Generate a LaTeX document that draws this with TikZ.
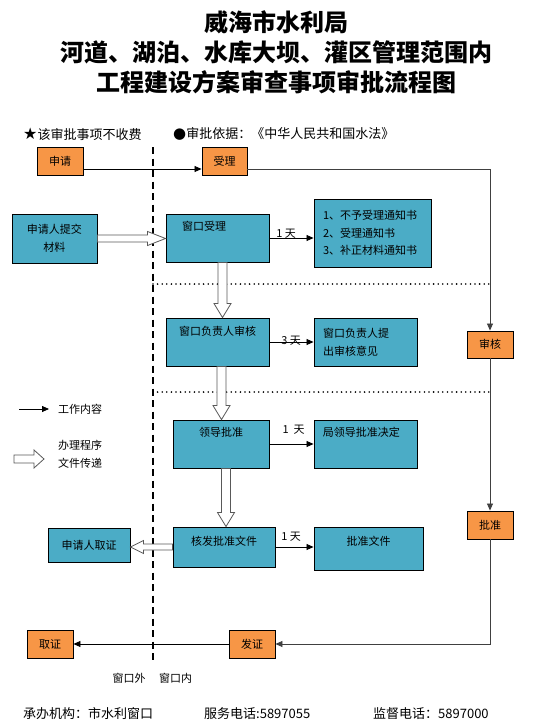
\documentclass[tikz,border=0pt]{standalone}
\usepackage{fontspec}
\setmainfont{Noto Sans CJK SC}
\newfontfamily\fuhao{DejaVu Sans}
\usetikzlibrary{arrows.meta,calc}
\definecolor{chengse}{HTML}{F79646}
\definecolor{lanse}{HTML}{4BACC6}
\tikzset{
  jt/.style={-{Triangle[length=7pt,width=6pt]},line width=0.8pt},
  kongjt/.style={draw=black!65,fill=white,line width=0.8pt},
  chengkuang/.style={draw,fill=chengse,line width=0.9pt,minimum width=46pt,minimum height=28pt,inner sep=0pt},
  lankuang/.style={draw,fill=lanse,line width=0.9pt,inner sep=0pt},
}
% hollow arrows: start, end (down) / start, end, shaft half, head half, signed head length (side)
\newcommand\fatdown[2]{\path[kongjt] let \p1=(#1), \p2=(#2) in
  (\x1-4.5pt,\y1) -- (\x1-4.5pt,\y2+14pt) -- (\x1-8.5pt,\y2+14pt) -- (\x1,\y2)
  -- (\x1+8.5pt,\y2+14pt) -- (\x1+4.5pt,\y2+14pt) -- (\x1+4.5pt,\y1) -- cycle;}
\newcommand\fatside[5]{\path[kongjt] let \p1=(#1), \p2=(#2), \n1={#5} in
  (\x1,\y1+#3) -- (\x2-\n1,\y1+#3) -- (\x2-\n1,\y1+#4) -- (\x2,\y1)
  -- (\x2-\n1,\y1-#4) -- (\x2-\n1,\y1-#3) -- (\x1,\y1-#3) -- cycle;}
\begin{document}
\begin{tikzpicture}[x=1pt,y=-1pt,font=\fontsize{11pt}{14pt}\selectfont]
  \useasboundingbox[fill=white] (0,0) rectangle (534,728);
  \node[font=\bfseries\fontsize{24pt}{30pt}\selectfont,align=center] (biaoti) at (276,52)
    {威海市水利局\\河道、湖泊、水库大坝、灌区管理范围内\\工程建设方案审查事项审批流程图};
  \node[font=\fontsize{13pt}{15pt}\selectfont,anchor=west,inner sep=0pt] (shoufei) at (23,134) {{\fuhao\fontsize{16pt}{16pt}\selectfont ★}该审批事项不收费};
  \node[font=\fontsize{13pt}{15pt}\selectfont,anchor=west,inner sep=0pt] (yiju) at (173,134) {{\fuhao\fontsize{15pt}{15pt}\selectfont ●}审批依据：《中华人民共和国水法》};
  % window line and stage separators
  \draw[line width=1.5pt,dash pattern=on 7pt off 4.5pt] (153,147) -- (153,660);
  \draw[line width=1.8pt,line cap=round,dash pattern=on 0pt off 4.6pt] (153,284) -- (490,284);
  \draw[line width=1.8pt,line cap=round,dash pattern=on 0pt off 4.6pt] (153,392) -- (490,392);
  % orange track
  \node[chengkuang] (sq) at (60,161) {申请};
  \node[chengkuang,minimum width=45pt] (sl) at (224.5,161) {受理};
  \node[chengkuang,minimum height=27pt] (sh) at (490,344.5) {审核};
  \node[chengkuang] (pz) at (490,525) {批准};
  \node[chengkuang] (fz) at (252,644) {发证};
  \node[chengkuang] (qz) at (50,644) {取证};
  \draw[jt] ([yshift=-8pt]sq.east) -- ([yshift=-8pt]sl.west);
  \draw[jt,draw=black!75] ([yshift=-8pt]sl.east) -| (sh.north);
  \draw[jt,draw=black!75] (sh.south) -- (pz.north);
  \draw[jt,draw=black!75] (pz.south) |- (fz.east);
  \draw[jt] (fz.west) -- (qz.east);
  % blue boxes
  \node[lankuang,minimum width=85pt,minimum height=49pt,align=center] (tj) at (54.5,238.5) {申请人提交\\[4pt]材料};
  \node[lankuang,minimum width=103pt,minimum height=48pt] (wsl) at (217.5,238) {};
  \node (wsl-t) at ([xshift=-13.5pt,yshift=-13pt]wsl.north) {窗口受理};
  \node[lankuang,minimum width=117pt,minimum height=68pt,text width=99pt,align=left,font=\fontsize{11pt}{17.5pt}\selectfont] (tzs) at (372.5,233)
    {1、不予受理通知书\\2、受理通知书\\3、补正材料通知书};
  \node[lankuang,minimum width=103pt,minimum height=48pt] (fzr) at (217.5,342) {};
  \node (fzr-t) at ([yshift=-14pt]fzr.north) {窗口负责人审核};
  \node[lankuang,minimum width=103pt,minimum height=48pt,text width=85pt,align=left,font=\fontsize{11pt}{18pt}\selectfont] (yj) at (365.5,342)
    {窗口负责人提\\出审核意见};
  \node[lankuang,minimum width=96pt,minimum height=48pt] (ldpz) at (221,444) {};
  \node (ldpz-t) at ([yshift=-13pt]ldpz.north) {领导批准};
  \node[lankuang,minimum width=103pt,minimum height=48pt] (jd) at (365.5,444) {};
  \node[anchor=west,inner sep=0pt] (jd-t) at ([xshift=9pt,yshift=-13pt]jd.north west) {局领导批准决定};
  \node[lankuang,minimum width=102pt,minimum height=40pt] (hf) at (224,547) {};
  \node (hf-t) at ([yshift=-15pt]hf.north) {核发批准文件};
  \node[lankuang,minimum width=109pt,minimum height=43pt] (pzwj) at (368.5,548.5) {};
  \node (pzwj-t) at ([yshift=-15pt]pzwj.north) {批准文件};
  \node[lankuang,minimum width=82pt,minimum height=34pt] (qzr) at (89,545) {申请人取证};
  % work arrows
  \draw[jt] (wsl.east) -- (tzs.west |- wsl.east) node[pos=0.38,above,yshift=-4pt] {1 天};
  \draw[jt] (fzr.east) -- (yj.west) node[pos=0.49,above,yshift=-7pt] {3 天};
  \draw[jt] (ldpz.east) -- (jd.west) node[pos=0.55,above,yshift=6pt] {1\ \ 天};
  \draw[jt] (hf.east) -- (pzwj.west |- hf.east) node[pos=0.41,above,yshift=2pt] {1 天};
  % document flow
  \fatside{tj.east}{wsl.west}{3.5pt}{7pt}{18pt}
  \fatdown{[xshift=5pt]wsl.south}{[xshift=5pt]fzr.north}
  \fatdown{[xshift=4pt]fzr.south}{ldpz.north}
  \fatdown{[xshift=5pt]ldpz.south}{hf.north}
  \fatside{hf.west}{qzr.east}{3pt}{6.5pt}{-13pt}
  % legend
  \coordinate (lg1) at (19,409);
  \coordinate (lg2) at (49,409);
  \draw[jt] (lg1) -- (lg2);
  \node[anchor=west,inner sep=0pt] (lg-gz) at (58,409) {工作内容};
  \coordinate (lg3) at (14,459);
  \coordinate (lg4) at (44,459);
  \fatside{lg3}{lg4}{4pt}{9pt}{10pt}
  \node[anchor=west,inner sep=0pt,align=left,font=\fontsize{11pt}{18pt}\selectfont] (lg-wj) at (58,454) {办理程序\\文件传递};
  \node (wai) at (129,678) {窗口外};
  \node (nei) at (175.5,678) {窗口内};
  % footer
  \node[font=\fontsize{13pt}{15pt}\selectfont,anchor=west,inner sep=0pt] (jigou) at (23,714) {承办机构：市水利窗口};
  \node[font=\fontsize{13pt}{15pt}\selectfont,anchor=west,inner sep=0pt] (fuwu) at (204,714) {服务电话:5897055};
  \node[font=\fontsize{13pt}{15pt}\selectfont,anchor=west,inner sep=0pt] (jiandu) at (373,714) {监督电话：5897000};
\end{tikzpicture}
\end{document}
